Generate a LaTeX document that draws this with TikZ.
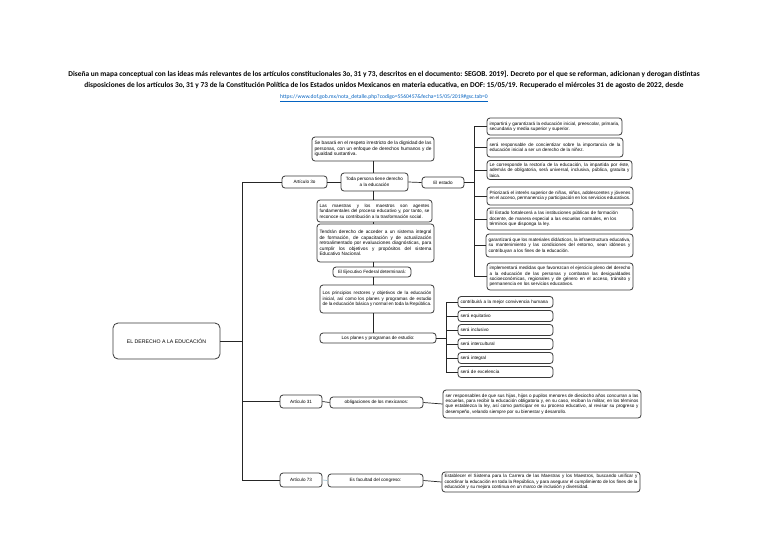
\documentclass[tikz,border=0pt]{standalone}
\usepackage{fontspec}
\setmainfont{Carlito}
\newfontfamily\boxfont{Liberation Sans}
\usetikzlibrary{calc}
\definecolor{linkblue}{HTML}{0563C1}
\definecolor{bordergray}{HTML}{3A3A3A}
\hyphenpenalty=10000
\exhyphenpenalty=10000
\emergencystretch=3em
\begin{document}
\begin{tikzpicture}[x=1pt,y=-1pt,
  box/.style={draw=bordergray, line width=0.8pt, rounded corners=3pt, fill=white,
    inner xsep=2pt, inner ysep=1pt, anchor=center,
    font=\boxfont\fontsize{4.6}{5.4}\selectfont},
  jbox/.style={box, align=justify},
  lbox/.style={box, align=left},
  cbox/.style={box, align=center},
  ttl/.style={font=\bfseries\fontsize{7.4}{9}\selectfont, inner sep=0pt},
  conn/.style={draw=black!85, line width=0.7pt},
  bconn/.style={draw=cyan!40!gray!60, line width=0.7pt}]
\useasboundingbox (0,0) rectangle (768,558);
\fill[white] (0,0) rectangle (768,558);

% title
\node[ttl] (title1) at (384,74)
 {Diseña un mapa conceptual con las ideas más relevantes de los artículos constitucionales 3o, 31 y 73, descritos en el documento: SEGOB. 2019]. Decreto por el que se reforman, adicionan y derogan distintas};
\node[ttl] (title2) at (384,86)
 {disposiciones de los artículos 3o, 31 y 73 de la Constitución Política de los Estados unidos Mexicanos en materia educativa, en DOF: 15/05/19. Recuperado el miércoles 31 de agosto de 2022, desde};
\node[font=\fontsize{5.6}{7}\selectfont, inner sep=0pt, text=linkblue] (title3) at (384,98)
 {\underline{https://www.dof.gob.mx/nota\_detalle.php?codigo=5560457\&fecha=15/05/2019\#gsc.tab=0}};

% root
\node[cbox, minimum width=107pt, minimum height=36pt, rounded corners=5pt,
  font=\boxfont\fontsize{5.2}{6}\selectfont] (root) at (166.5,341) {EL DERECHO A LA EDUCACIÓN};

% Articulo 3o branch
\node[cbox, minimum width=45pt, minimum height=12pt] (art3) at (304.5,182) {Artículo 3o};
\node[cbox, minimum width=67pt, minimum height=18pt] (toda) at (374.5,182) {Toda persona tiene derecho\\a la educación};
\node[jbox, minimum width=122pt, minimum height=24pt, text width=117pt,
  font=\boxfont\fontsize{4.8}{5.5}\selectfont] (sebasa) at (373,149)
 {Se basará en el respeto irrestricto de la dignidad de las personas, con un enfoque de derechos humanos y de igualdad sustantiva.};
\node[cbox, minimum width=42pt, minimum height=11pt] (estado) at (443,182.5) {El estado};
\node[jbox, minimum width=115pt, minimum height=22pt, text width=110pt] (maestras) at (374.5,211)
 {Las maestras y los maestros son agentes fundamentales del proceso educativo y, por tanto, se reconoce su contribución a la trasformación social.};
\node[jbox, minimum width=117pt, minimum height=38pt, text width=112pt,
  font=\boxfont\fontsize{4.75}{5.6}\selectfont] (tendran) at (375.5,243)
 {Tendrán derecho de acceder a un sistema integral de formación, de capacitación y de actualización retroalimentado por evaluaciones diagnósticas, para cumplir los objetivos y propósitos del sistema Educativo Nacional.};
\node[cbox, minimum width=78pt, minimum height=10pt] (ejec) at (372,272) {El Ejecutivo Federal determinará:};
\node[jbox, minimum width=114pt, minimum height=28pt, text width=109pt] (princ) at (377,299)
 {Los principios rectores y objetivos de la educación inicial, así como los planes y programas de estudio de la educación básica y normal en toda la República.};
\node[cbox, minimum width=116pt, minimum height=10pt] (planes) at (378,338) {Los planes y programas de estudio:};

% small boxes
\foreach \n/\y/\t in {s1/302/contribuirá a la mejor convivencia humana, s2/316/será equitativo, s3/330/será inclusivo,
  s4/344/será intercultural, s5/358/será integral, s6/372/será de excelencia}
  \node[lbox, minimum width=95pt, minimum height=11pt, text width=90pt] (\n) at (505.5,\y) {\t};

% right boxes
\node[jbox, minimum width=135pt, minimum height=17pt, text width=130pt] (r1) at (554.5,126.5)
 {impartirá y garantizará la educación inicial, preescolar, primaria, secundaria y media superior y superior.};
\node[jbox, minimum width=136pt, minimum height=19pt, text width=131pt] (r2) at (555,147.5)
 {será responsable de concientizar sobre la importancia de la educación inicial a ser un derecho de la niñez.};
\node[jbox, minimum width=145pt, minimum height=19pt, text width=140pt] (r3) at (559.5,170)
 {Le corresponde la rectoría de la educación, la impartida por éste, además de obligatoria, será universal, inclusiva, pública, gratuita y laica.};
\node[jbox, minimum width=146pt, minimum height=18pt, text width=141pt] (r4) at (560,196)
 {Priorizará el interés superior de niñas, niños, adolescentes y jóvenes en el acceso, permanencia y participación en los servicios educativos.};
\node[lbox, minimum width=146pt, minimum height=22pt, text width=141pt] (r5) at (560,219)
 {El Estado fortalecerá a las instituciones públicas de formación docente, de manera especial a las escuelas normales, en los términos que disponga la ley.};
\node[jbox, minimum width=147pt, minimum height=23pt, text width=142pt] (r6) at (559.5,245.5)
 {garantizará que los materiales didácticos, la infraestructura educativa, su mantenimiento y las condiciones del entorno, sean idóneos y contribuyan a los fines de la educación.};
\node[jbox, minimum width=146pt, minimum height=27pt, text width=141pt] (r7) at (560,276.5)
 {implementará medidas que favorezcan el ejercicio pleno del derecho a la educación de las personas y combatan las desigualdades socioeconómicas, regionales y de género en el acceso, tránsito y permanencia en los servicios educativos.};

% Articulo 31
\node[cbox, minimum width=42pt, minimum height=13pt] (art31) at (301,401.5) {Artículo 31};
\node[cbox, minimum width=93pt, minimum height=11pt] (oblig) at (376.5,402.5) {obligaciones de los mexicanos:};
\node[jbox, minimum width=198pt, minimum height=28pt, text width=193pt] (long31) at (542,404)
 {ser responsables de que sus hijas, hijos o pupilos menores de dieciocho años concurran a las escuelas, para recibir la educación obligatoria y, en su caso, reciban la militar, en los términos que establezca la ley, así como participar en su proceso educativo, al revisar su progreso y desempeño, velando siempre por su bienestar y desarrollo.};

% Articulo 73
\node[cbox, minimum width=42pt, minimum height=14pt] (art73) at (301,480) {Artículo 73};
\node[cbox, minimum width=95pt, minimum height=13pt] (fac) at (375.5,480.5) {Es facultad del congreso:};
\node[jbox, minimum width=198pt, minimum height=20pt, text width=193pt] (long73) at (541,482)
 {Establecer el Sistema para la Carrera de las Maestras y los Maestros, buscando unificar y coordinar la educación en toda la República, y para asegurar el cumplimiento de los fines de la educación y su mejora continua en un marco de inclusión y diversidad.};

% connectors
\coordinate (tx) at (242,0);
\coordinate (cx) at (373,0);
\coordinate (ex) at (474,0);
\coordinate (px) at (446,0);
\draw[conn] (art3.west) -- (art3.west -| tx) -- (art73.west -| tx) -- (art73.west);
\draw[conn] (root.east) -- (root.east -| tx);
\draw[conn] (art31.west) -- (art31.west -| tx);
\draw[conn] (art3.east) -- (toda.west);
\draw[conn] (toda.east) -- (estado.west);
\draw[conn] (sebasa.south -| cx) -- (toda.north -| cx);
\draw[conn] (toda.south -| cx) -- (maestras.north -| cx);
\draw[conn] (maestras.south -| cx) -- (tendran.north -| cx);
\draw[conn] (tendran.south -| cx) -- (ejec.north -| cx);
\draw[conn] (ejec.south -| cx) -- (princ.north -| cx);
\draw[conn] (princ.south -| cx) -- (planes.north -| cx);
% estado bracket
\draw[conn] (estado.east) -- (estado.east -| ex);
\draw[conn] (r1.west -| ex) -- (r7.west -| ex);
\foreach \r in {r1,r2,r3,r4,r5,r6,r7} \draw[conn] (\r.west -| ex) -- (\r.west);
% planes bracket
\draw[conn] (planes.east) -- (planes.east -| px);
\draw[conn] (s1.west -| px) -- (s6.west -| px);
\foreach \s in {s1,s2,s3,s4,s5,s6} \draw[conn] (\s.west -| px) -- (\s.west);
% art31 / art73 rows
\draw[conn] (art31.east) -- (oblig.west);
\draw[conn] (oblig.east) -- (long31.west);
\draw[bconn] (art73.east) -- (fac.west);
\draw[conn] (fac.east) -- (long73.west);
\end{tikzpicture}
\end{document}
